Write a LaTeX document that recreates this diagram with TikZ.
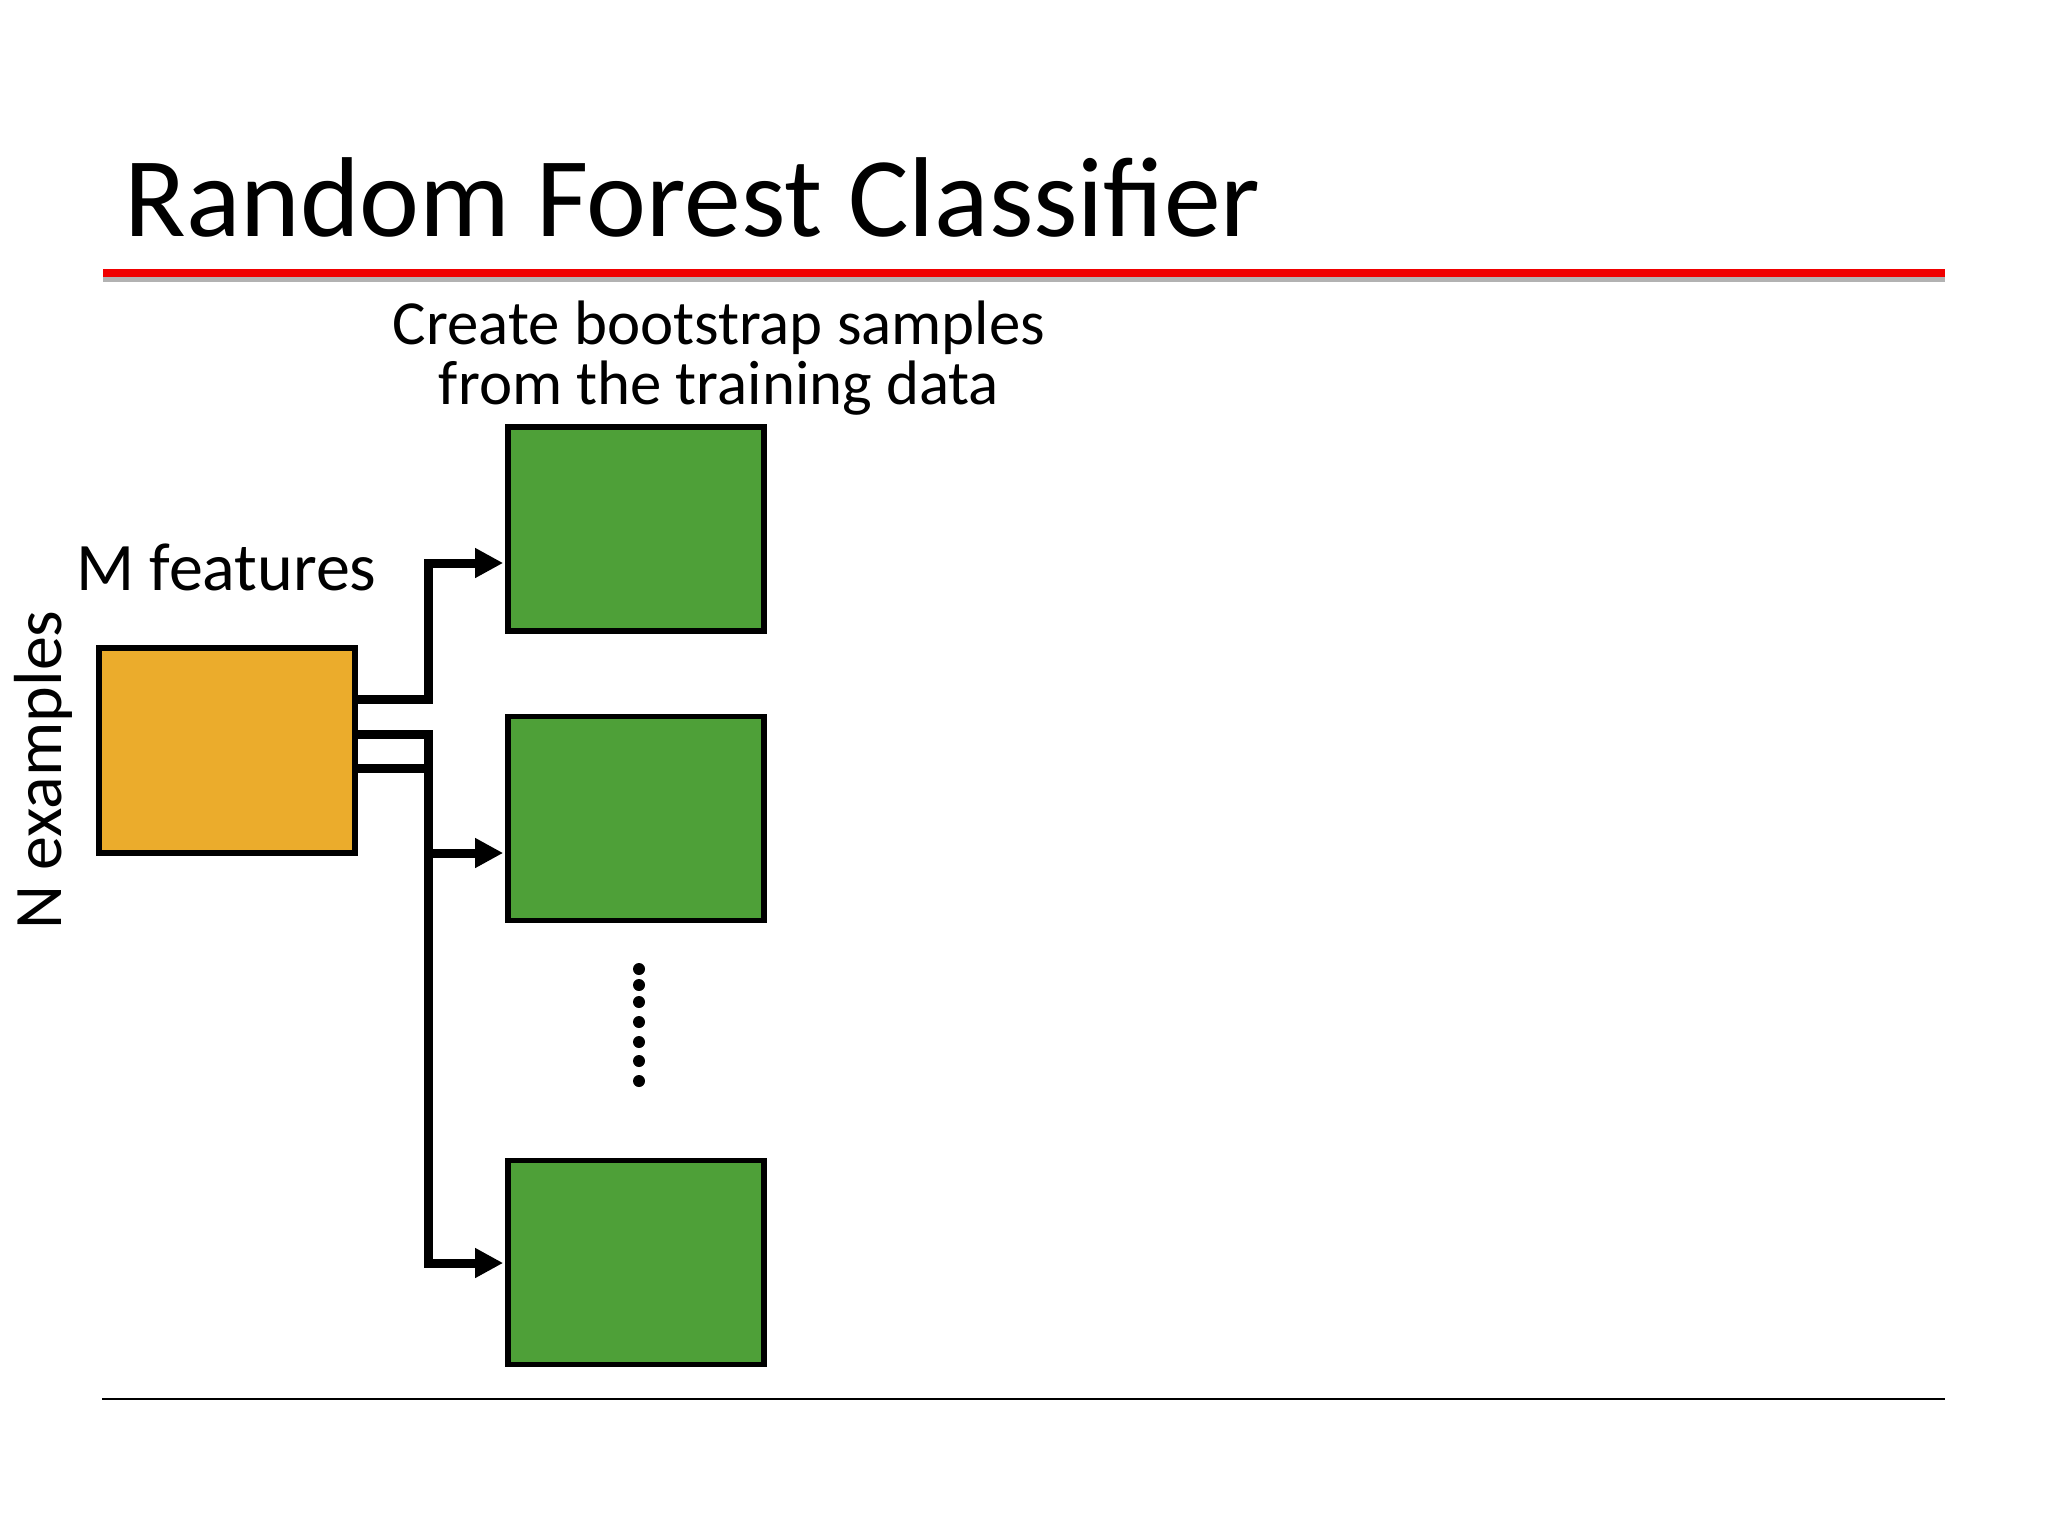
\documentclass[tikz,border=0pt]{standalone}
\usepackage{fontspec}
\setmainfont{Carlito}
\usetikzlibrary{arrows.meta,calc}
\definecolor{boxorange}{RGB}{235,172,44}
\definecolor{boxgreen}{RGB}{78,160,56}
\definecolor{rulered}{RGB}{240,0,0}
\tikzset{
  databox/.style={draw=black, line width=2.8pt, inner sep=0pt, minimum width=128pt, minimum height=102pt},
  conn/.style={line width=4.5pt, line join=miter},
  arr/.style={conn, -{Triangle[length=14pt,width=14pt]}},
  dotmark/.style={circle, fill=black, inner sep=0pt, minimum size=6pt},
}
\begin{document}
\begin{tikzpicture}[x=0.5pt,y=-0.5pt]
\useasboundingbox (0,0) rectangle (2048,1536);
% title and rules
\node[anchor=base west, inner sep=0pt, font=\fontsize{56.8}{68}\selectfont] (title) at (124,236) {Random Forest Classifier};
\draw[line width=4.5pt, gray!60] (103,277) -- (1945,277);
\draw[line width=4pt, rulered] (103,273) -- (1945,273);
\draw[line width=1pt] (102,1399) -- (1945,1399);
% labels
\node[align=center, inner sep=0pt, font=\fontsize{31.4}{30}\selectfont] (cap) at (719,358) {Create bootstrap samples\\from the training data};
\node[anchor=base west, inner sep=0pt, font=\fontsize{34}{40}\selectfont] (mf) at (76,590) {M features};
\node[anchor=base, rotate=90, inner sep=0pt, font=\fontsize{34}{40}\selectfont] (ne) at (61,770) {N examples};
% boxes
\node[databox, fill=boxorange, minimum height=102.5pt] (data) at (227,750.5) {};
\node[databox, fill=boxgreen] (g1) at (636,529) {};
\node[databox, fill=boxgreen] (g2) at (636,818.5) {};
\node[databox, fill=boxgreen] (g3) at (636,1262.5) {};
% connectors
\coordinate (j1) at (428,563);
\coordinate (j2) at (428,734);
\coordinate (j3) at (428,1263);
\coordinate (jm) at (428,853);
\draw[arr, shorten >=1pt] (data.east |- 0,699) -| (j1) -- (g1.west |- j1);
\draw[arr, shorten >=1pt] (data.east |- j2) -- (j2) -- (j3) -- (g3.west |- j3);
\draw[arr, shorten >=1pt] (jm) -- (g2.west |- jm);
\draw[conn] (data.east |- 0,768) -- (428,768);
% dots
\foreach \yy [count=\i] in {969,985,1002,1022,1042,1061,1081}
  \node[dotmark] (d\i) at (639,\yy) {};
\end{tikzpicture}
\end{document}
